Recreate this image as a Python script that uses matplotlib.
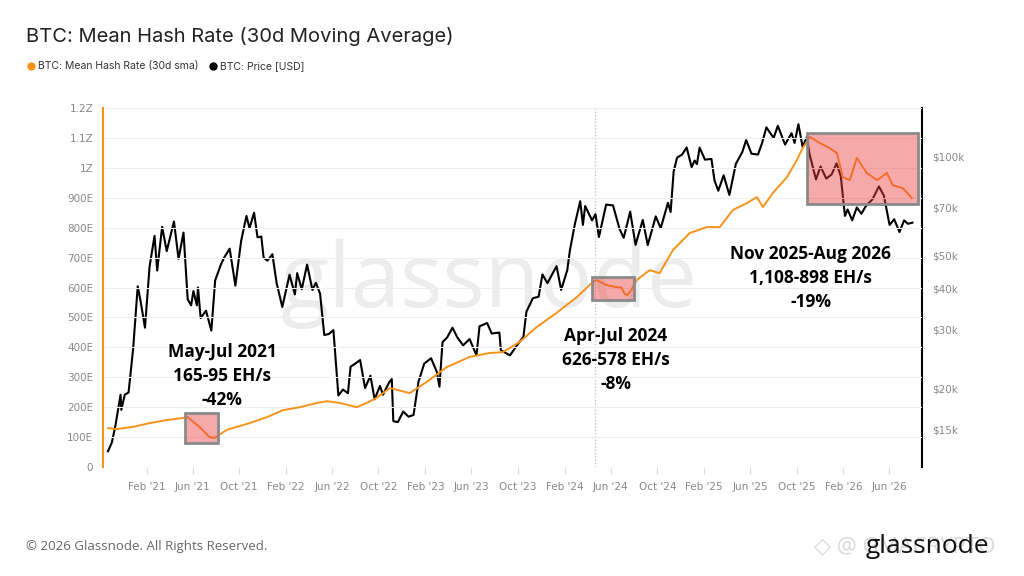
import matplotlib.pyplot as plt
import matplotlib.dates as mdates
import matplotlib.patches as patches
from matplotlib.lines import Line2D
import pandas as pd

# BTC price, USD thousands
price_dates = [
    "2020-10-22", "2020-11-01", "2020-11-10", "2020-11-24", "2020-11-26", "2020-12-05", "2020-12-15",
    "2020-12-27", "2021-01-08", "2021-01-15", "2021-01-27", "2021-02-08", "2021-02-21", "2021-02-28",
    "2021-03-13", "2021-03-25", "2021-04-13", "2021-04-25", "2021-05-08", "2021-05-19", "2021-05-28",
    "2021-06-03", "2021-06-12", "2021-06-15", "2021-06-22", "2021-07-06", "2021-07-20", "2021-07-30",
    "2021-08-14", "2021-08-22", "2021-09-06", "2021-09-21", "2021-10-06", "2021-10-20", "2021-10-28",
    "2021-11-09", "2021-11-18", "2021-11-28", "2021-12-04", "2021-12-14", "2021-12-27", "2022-01-07",
    "2022-01-22", "2022-02-10", "2022-02-24", "2022-03-02", "2022-03-14", "2022-03-28", "2022-04-11",
    "2022-04-20", "2022-05-01", "2022-05-12", "2022-05-24", "2022-06-05", "2022-06-13", "2022-06-18",
    "2022-06-30", "2022-07-13", "2022-07-20", "2022-07-30", "2022-08-14", "2022-08-27", "2022-09-10",
    "2022-09-21", "2022-10-05", "2022-10-13", "2022-10-29", "2022-11-05", "2022-11-09", "2022-11-21",
    "2022-12-05", "2022-12-19", "2023-01-01", "2023-01-14", "2023-01-29", "2023-02-16", "2023-03-03",
    "2023-03-10", "2023-03-18", "2023-03-30", "2023-04-13", "2023-04-26", "2023-05-11", "2023-05-28",
    "2023-06-15", "2023-06-23", "2023-07-13", "2023-07-25", "2023-08-14", "2023-08-18", "2023-09-11",
    "2023-09-30", "2023-10-16", "2023-10-24", "2023-11-10", "2023-11-25", "2023-12-05", "2023-12-18",
    "2024-01-11", "2024-01-23", "2024-02-08", "2024-02-15", "2024-02-28", "2024-03-13", "2024-03-20",
    "2024-03-26", "2024-04-13", "2024-04-22", "2024-05-01", "2024-05-20", "2024-06-07", "2024-06-24",
    "2024-07-05", "2024-07-22", "2024-08-05", "2024-08-24", "2024-09-06", "2024-09-27", "2024-10-10",
    "2024-10-29", "2024-11-05", "2024-11-13", "2024-11-22", "2024-12-05", "2024-12-17", "2024-12-30",
    "2025-01-07", "2025-01-13", "2025-01-20", "2025-02-03", "2025-02-20", "2025-02-28", "2025-03-10",
    "2025-03-24", "2025-04-08", "2025-04-25", "2025-05-12", "2025-05-22", "2025-06-05", "2025-06-22",
    "2025-07-03", "2025-07-14", "2025-08-02", "2025-08-13", "2025-09-01", "2025-09-18", "2025-09-26",
    "2025-10-06", "2025-10-17", "2025-10-28", "2025-11-04", "2025-11-21", "2025-12-03", "2025-12-18",
    "2026-01-01", "2026-01-14", "2026-01-25", "2026-02-05", "2026-02-12", "2026-02-24", "2026-03-08",
    "2026-03-20", "2026-04-02", "2026-04-18", "2026-05-05", "2026-05-18", "2026-06-02", "2026-06-14",
    "2026-06-28", "2026-07-10", "2026-07-20", "2026-08-01",
]
price_k = [
    12.9, 13.7, 15.3, 19.1, 17.2, 19.1, 19.4,
    26.3, 40.5, 36.8, 30.4, 46.4, 57.5, 45.2,
    61.2, 51.7, 63.5, 49.0, 58.8, 37.0, 35.5,
    39.2, 35.5, 40.2, 32.5, 34.2, 29.8, 42.2,
    47.1, 49.3, 52.6, 40.7, 55.4, 66.0, 60.6,
    67.5, 56.9, 57.2, 49.4, 48.4, 50.6, 41.5,
    35.1, 43.9, 38.3, 44.4, 39.7, 47.1, 39.5,
    41.5, 38.5, 28.9, 29.1, 29.9, 22.5, 19.0,
    19.8, 19.3, 23.2, 23.6, 24.3, 20.0, 21.8,
    18.5, 20.3, 19.1, 20.8, 21.3, 15.9, 15.8,
    17.0, 16.4, 16.6, 20.9, 23.7, 24.6, 22.4,
    20.2, 27.5, 28.4, 30.4, 28.4, 26.9, 28.1,
    25.1, 30.7, 31.4, 29.2, 29.4, 26.0, 25.1,
    27.0, 28.5, 34.0, 37.3, 37.7, 44.0, 41.4,
    46.6, 39.5, 45.3, 52.0, 62.4, 73.1, 62.0,
    70.7, 64.0, 66.8, 57.0, 71.4, 71.0, 60.3,
    56.7, 68.0, 54.0, 64.2, 53.9, 65.8, 60.6,
    72.3, 67.8, 90.0, 98.9, 101.0, 106.1, 92.6,
    96.9, 94.5, 106.0, 97.5, 98.0, 84.4, 78.6,
    87.5, 76.3, 94.7, 102.8, 111.7, 101.6, 101.0,
    109.6, 122.0, 113.3, 123.3, 108.3, 117.1, 109.5,
    124.7, 106.5, 114.0, 101.5, 85.0, 93.0, 85.5,
    88.0, 95.0, 87.0, 66.0, 69.0, 64.0, 70.0,
    67.0, 71.0, 74.0, 81.0, 76.0, 62.0, 64.5,
    59.0, 64.0, 62.5, 63.0,
]

# mean hash rate, 30d sma, EH/s
hash_dates = [
    "2020-10-22", "2020-11-14", "2020-12-26", "2021-02-09", "2021-03-25", "2021-05-06", "2021-05-19",
    "2021-06-19", "2021-07-15", "2021-07-28", "2021-08-29", "2021-10-29", "2021-12-13", "2022-01-24",
    "2022-03-09", "2022-04-23", "2022-05-19", "2022-06-22", "2022-08-05", "2022-08-31", "2022-09-26",
    "2022-10-31", "2022-12-22", "2023-02-04", "2023-03-29", "2023-05-28", "2023-07-20", "2023-08-23",
    "2023-10-06", "2023-11-20", "2024-01-11", "2024-03-04", "2024-04-15", "2024-04-25", "2024-05-21",
    "2024-06-17", "2024-06-28", "2024-07-08", "2024-07-15", "2024-07-25", "2024-08-08", "2024-09-11",
    "2024-10-07", "2024-11-11", "2024-12-25", "2025-02-08", "2025-03-14", "2025-04-17", "2025-05-24",
    "2025-06-19", "2025-07-05", "2025-07-31", "2025-09-06", "2025-10-02", "2025-10-17", "2025-11-05",
    "2025-12-01", "2025-12-27", "2026-01-15", "2026-01-30", "2026-02-18", "2026-03-08", "2026-04-03",
    "2026-04-30", "2026-05-26", "2026-06-10", "2026-07-07", "2026-07-30",
]
hash_ehs = [
    130, 127, 134, 147, 157, 164, 167,
    134, 100, 97, 124, 147, 167, 190,
    200, 214, 220, 214, 200, 214, 231,
    264, 247, 284, 334, 368, 381, 384,
    418, 468, 515, 568, 618, 625, 608,
    601, 601, 578, 575, 592, 625, 658,
    648, 725, 782, 802, 802, 859, 882,
    902, 869, 916, 969, 1026, 1066, 1103,
    1083, 1066, 1049, 969, 959, 1033, 983,
    959, 983, 942, 932, 899,
]

# highlighted drawdowns: start, end, low, high (EH/s), label
box_start = ["2021-05-12", "2024-04-13", "2025-10-28"]
box_end = ["2021-08-06", "2024-07-31", "2026-08-15"]
box_low = [80, 558, 879]
box_high = [180, 635, 1116]
box_labels = ["May-Jul 2021\n165-95 EH/s\n-42%",
              "Apr-Jul 2024\n626-578 EH/s\n-8%",
              "Nov 2025-Aug 2026\n1,108-898 EH/s\n-19%"]
label_dates = ["2021-08-17", "2024-06-14", "2025-11-07"]
label_ehs = [304, 358, 632]

hash_ticks = [0, 100, 200, 300, 400, 500, 600, 700, 800, 900, 1000, 1100, 1200]
hash_tick_labels = ["0", "100E", "200E", "300E", "400E", "500E", "600E", "700E", "800E", "900E",
                    "1Z", "1.1Z", "1.2Z"]
price_ticks = [15, 20, 30, 40, 50, 70, 100]
price_tick_labels = ["$15k", "$20k", "$30k", "$40k", "$50k", "$70k", "$100k"]

ORANGE = "#f7931a"
GREY = "#888888"

pd_price = pd.to_datetime(price_dates)
pd_hash = pd.to_datetime(hash_dates)

fig = plt.figure(figsize=(10.24, 5.76), dpi=100)
ax2 = fig.add_axes([0.1006, 0.1892, 0.7998, 0.6233])   # price, right log axis
ax = fig.add_axes(ax2.get_position(), sharex=ax2)       # hash rate, drawn on top
ax.patch.set_visible(False)
ax.set_zorder(ax2.get_zorder() + 1)

# price on the right
ax2.plot(pd_price, price_k, color="black", linewidth=1.5, zorder=3)
ax2.set_yscale("log")
ax2.set_ylim(11.57, 139.5)
ax2.yaxis.tick_right()
ax2.set_yticks(price_ticks)
ax2.set_yticklabels(price_tick_labels)
ax2.minorticks_off()
ax2.tick_params(axis="y", which="both", length=0, pad=7, labelsize=7.5, labelcolor=GREY)
ax2.text(0.472, 0.51, "glassnode", transform=ax2.transAxes, ha="center", va="center",
         fontsize=64, color="#ececec", family="Open Sans", zorder=1)
ax2.axvline(pd.Timestamp("2024-04-20"), color="#bbbbbb", linestyle=":", linewidth=0.9, zorder=1)

# hash rate on the left
ax.plot(pd_hash, hash_ehs, color=ORANGE, linewidth=1.4, zorder=3)
ax.set_ylim(0, 1200)
ax.set_yticks(hash_ticks)
ax.set_yticklabels(hash_tick_labels)
ax.tick_params(axis="y", length=0, pad=7, labelsize=7.5, labelcolor=GREY)
ax.grid(axis="y", color="#eeeeee", linewidth=0.8)
ax.set_axisbelow(True)

ax.set_xlim(pd.Timestamp("2020-10-09"), pd.Timestamp("2026-08-26"))
ax.xaxis.set_major_locator(mdates.MonthLocator(bymonth=[2, 6, 10]))
ax.xaxis.set_major_formatter(mdates.DateFormatter("%b '%y"))
ax.tick_params(axis="x", length=5, color="#dddddd", pad=6, labelsize=7.5, labelcolor=GREY)
ax2.tick_params(axis="x", bottom=False, labelbottom=False)

for a in (ax, ax2):
    for s in a.spines.values():
        s.set_visible(False)
ax.spines["left"].set_visible(True)
ax.spines["left"].set_color(ORANGE)
ax.spines["left"].set_linewidth(1.5)
ax2.spines["right"].set_visible(True)
ax2.spines["right"].set_color("black")
ax2.spines["right"].set_linewidth(1.5)

# highlight boxes and labels
for s, e, lo, hi in zip(box_start, box_end, box_low, box_high):
    x0 = mdates.date2num(pd.Timestamp(s))
    x1 = mdates.date2num(pd.Timestamp(e))
    ax.add_patch(patches.Rectangle((x0, lo), x1 - x0, hi - lo, facecolor=(0.93, 0.25, 0.25, 0.45),
                                   edgecolor="#8a8a8a", linewidth=2, zorder=5))
for txt, d, v in zip(box_labels, label_dates, label_ehs):
    ax.text(pd.Timestamp(d), v, txt, ha="center", va="center", fontsize=12.5, fontweight="bold",
            family="Open Sans", linespacing=1.45, color="black", zorder=6)

# title, legend, footer
fig.text(0.025, 0.937, "BTC: Mean Hash Rate (30d Moving Average)", fontsize=14.5, family="Inter",
         color="#222222", va="center")
handles = [Line2D([], [], color=ORANGE, marker="o", linestyle="none", markersize=5),
           Line2D([], [], color="black", marker="o", linestyle="none", markersize=5)]
fig.legend(handles, ["BTC: Mean Hash Rate (30d sma)", "BTC: Price [USD]"], loc="center left",
           bbox_to_anchor=(0.019, 0.885), ncol=2, frameon=False, handlelength=0.5, handletextpad=0.35,
           columnspacing=1.2, prop={"family": "Inter", "size": 7.5}, labelcolor="#333333")
fig.text(0.025, 0.052, "\u00a9 2026 Glassnode. All Rights Reserved.", fontsize=9.5, color="#666666",
         family="Open Sans", va="center")
fig.text(0.795, 0.05, "\u25c7 @ GMACRYPTO", fontsize=16, color="#d8d8d8",
         family=["Open Sans", "DejaVu Sans"], va="center")
fig.text(0.845, 0.052, "glassnode", fontsize=19, color="#111111", family="Open Sans", va="center")

plt.savefig("out.png", dpi=100)
